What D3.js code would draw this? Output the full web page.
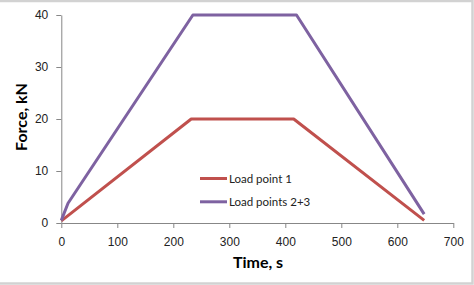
<!DOCTYPE html>
<html>
<head>
<meta charset="UTF-8">
<style>
  body { margin: 0; background: #fff; }
  svg { display: block; font-family: Lato, "Open Sans", sans-serif; }
  .axis path, .axis line { stroke: #878787; }
  .axis text { fill: #222; font-size: 12px; }
</style>
</head>
<body>
<svg id="chart" width="474" height="285"></svg>
<script src="https://d3js.org/d3.v7.min.js"></script>
<script>
  // data
  var seriesNames = ["Load point 1", "Load points 2+3"];
  var timeLoad1 = [0, 232, 415, 648];
  var forceLoad1 = [0.4, 20, 20, 0.5];
  var timeLoad23 = [0, 12, 235, 420, 648];
  var forceLoad23 = [0.5, 3.8, 40, 40, 1.7];
  var xTicks = [0, 100, 200, 300, 400, 500, 600, 700];
  var yTicks = [0, 10, 20, 30, 40];
  var colors = ["#c0504d", "#7e62a1"];

  var svg = d3.select("#chart");

  // outer frame (top, right, bottom only)
  svg.append("path")
    .attr("d", "M0,1H472.5V283.5H0")
    .attr("fill", "none").attr("stroke", "#d2d2d2").attr("stroke-width", 2.5);

  var x = d3.scaleLinear().domain([0, 700]).range([61.3, 453.3]);
  var y = d3.scaleLinear().domain([0, 40]).range([223, 15]);

  svg.append("g")
    .attr("class", "axis")
    .attr("transform", "translate(0," + y(0) + ")")
    .call(d3.axisBottom(x).tickValues(xTicks).tickSize(5).tickSizeOuter(0).tickPadding(9));

  svg.append("g")
    .attr("class", "axis")
    .attr("transform", "translate(" + x(0) + ",0)")
    .call(d3.axisLeft(y).tickValues(yTicks).tickSize(5).tickSizeOuter(0).tickPadding(8));

  var line = d3.line().x(d => x(d[0])).y(d => y(d[1]));
  var series = [
    d3.zip(timeLoad1, forceLoad1),
    d3.zip(timeLoad23, forceLoad23)
  ];

  svg.selectAll(".series")
    .data(series)
    .join("path")
    .attr("class", "series")
    .attr("d", line)
    .attr("fill", "none")
    .attr("stroke", (d, i) => colors[i])
    .attr("stroke-width", 3)
    .attr("stroke-linejoin", "round");

  // legend
  var legend = svg.append("g").selectAll("g")
    .data(seriesNames)
    .join("g")
    .attr("transform", (d, i) => "translate(200," + (178.5 + i * 23.3) + ")");
  legend.append("line")
    .attr("x1", 0).attr("x2", 27)
    .attr("stroke", (d, i) => colors[i])
    .attr("stroke-width", 3);
  legend.append("text")
    .attr("x", 29).attr("dy", "0.35em")
    .attr("font-size", 11.5).attr("fill", "#222")
    .text(d => d);

  // axis titles
  svg.append("text")
    .attr("x", 258).attr("y", 268)
    .attr("text-anchor", "middle")
    .attr("font-size", 16).attr("font-weight", "bold")
    .text("Time, s");

  svg.append("text")
    .attr("transform", "translate(27,117) rotate(-90)")
    .attr("text-anchor", "middle")
    .attr("font-size", 16).attr("font-weight", "bold")
    .text("Force, kN");
</script>
</body>
</html>
